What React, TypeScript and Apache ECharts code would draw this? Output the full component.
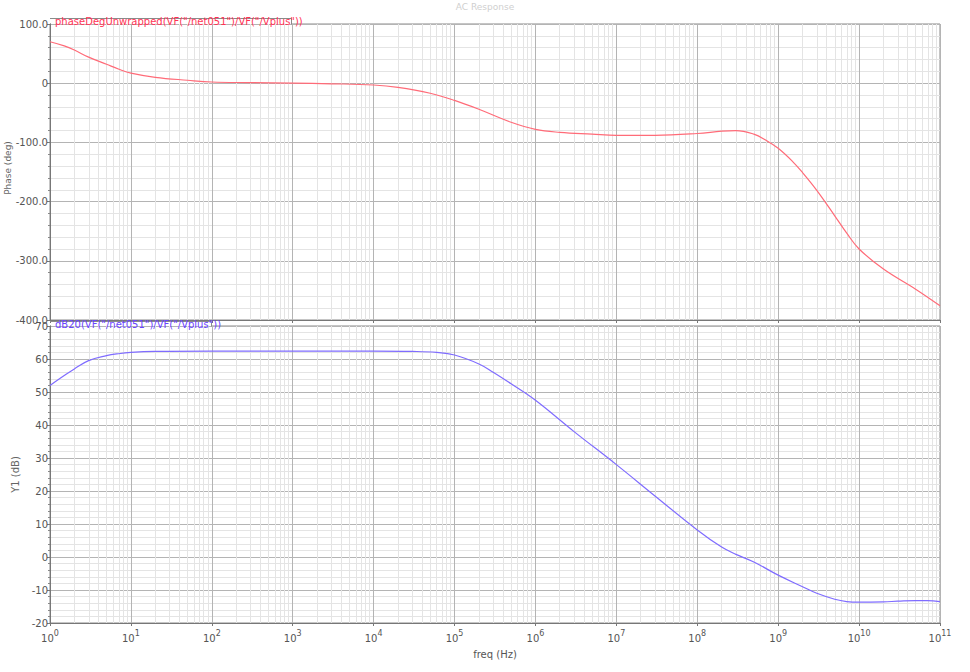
import React, { useEffect, useRef } from "react";
import * as echarts from "echarts";

const phaseFreq = [1, 1.5, 2, 3, 5, 7, 10, 20, 50, 100, 300, 1e3, 3e3, 1e4, 2e4, 5e4, 1e5, 2e5, 5e5, 1e6, 2e6, 5e6, 1e7, 3e7, 1e8, 2e8, 3e8, 5e8, 7e8, 1e9, 1.5e9, 2e9, 3e9, 5e9, 7e9, 1e10, 2e10, 5e10, 1e11];
const phaseDeg = [70, 63, 56, 44, 32, 24, 17, 10, 5, 2, 1, 0, -1, -3, -7, -17, -29, -44, -66, -78, -83, -86, -88, -88, -85, -81, -80, -86, -96, -110, -132, -151, -181, -224, -253, -280, -314, -348, -376];

const gainFreq = [1, 1.5, 2, 3, 5, 7, 10, 20, 100, 1e3, 1e4, 3e4, 6e4, 1e5, 2e5, 3e5, 5e5, 1e6, 3e6, 1e7, 3e7, 1e8, 2e8, 3e8, 5e8, 1e9, 2e9, 3e9, 5e9, 7e9, 1e10, 2e10, 3e10, 5e10, 7e10, 1e11];
const gainDb = [52, 55, 57, 59.5, 61, 61.6, 62, 62.3, 62.4, 62.4, 62.4, 62.3, 62, 61.2, 58.5, 56, 52.5, 47.5, 38, 28, 18.5, 8.2, 3, 0.8, -1.5, -5.5, -9, -11, -12.8, -13.5, -13.7, -13.6, -13.4, -13.2, -13.2, -13.5];

const decadeExponents = [0, 1, 2, 3, 4, 5, 6, 7, 8, 9, 10, 11];
const minorMultipliers = [2, 3, 4, 5, 6, 7, 8, 9];

const phaseLegend = 'phaseDegUnwrapped(VF("/net051")/VF("/Vplus"))';
const gainLegend = 'dB20(VF("/net051")/VF("/Vplus"))';
const titleText = "AC Response";
const xName = "freq (Hz)";
const phaseName = "Phase (deg)";
const gainName = "Y1 (dB)";

const FONT = "DejaVu Sans";

export default function App() {
  const ref = useRef<HTMLDivElement>(null);
  useEffect(() => {
    if (!ref.current) return;
    const chart = echarts.init(ref.current, undefined, { renderer: "svg" });

    // log10 decade coordinates of the minor (2..9) frequencies
    const minorX: number[] = [];
    decadeExponents.slice(0, -1).forEach((e) => {
      minorMultipliers.forEach((m) => minorX.push(Math.log10(m * Math.pow(10, e))));
    });
    const minExp = decadeExponents[0];
    const maxExp = decadeExponents[decadeExponents.length - 1];

    const grids = [
      { left: 50, top: 24, width: 890, height: 296, show: true, borderColor: "#8a8a8a", borderWidth: 1, outerBoundsMode: "none", containLabel: false },
      { left: 50, top: 326, width: 890, height: 297, show: true, borderColor: "#8a8a8a", borderWidth: 1, outerBoundsMode: "none", containLabel: false },
    ];

    const xAxisBase = (gridIndex: number, showLabels: boolean) => ({
      type: "value",
      gridIndex,
      min: minExp,
      max: maxExp,
      interval: 1,
      name: showLabels ? xName : "",
      nameLocation: "middle",
      nameGap: 26,
      nameTextStyle: { color: "#555", fontFamily: FONT, fontSize: 10 },
      axisLine: { show: true, onZero: false, lineStyle: { color: "#777" } },
      axisTick: { show: true, length: 3, inside: false, lineStyle: { color: "#777" } },
      axisLabel: {
        show: showLabels,
        margin: 6,
        formatter: (v: number) => `{b|10}{s|${Math.round(v)}}`,
        rich: {
          b: { fontFamily: FONT, fontSize: 10, color: "#555", verticalAlign: "bottom" },
          s: { fontFamily: FONT, fontSize: 8, color: "#555", verticalAlign: "bottom", padding: [0, 0, 6, 0] },
        },
      },
      splitLine: { show: true, lineStyle: { color: "#b4b4b4", width: 1 } },
    });

    const minorGridSeries = (idx: number) => ({
      type: "line",
      xAxisIndex: idx,
      yAxisIndex: idx,
      data: [],
      silent: true,
      z: 0,
      markLine: {
        silent: true,
        symbol: ["none", "none"],
        label: { show: false },
        lineStyle: { color: "#e4e4e4", width: 1, type: "solid" },
        emphasis: { disabled: true },
        animation: false,
        data: minorX.map((v) => ({ xAxis: v })),
      },
    });

    const option: any = {
      animation: false,
      backgroundColor: "#ffffff",
      title: {
        text: titleText,
        left: "center",
        top: -3,
        textStyle: { fontFamily: FONT, fontSize: 9, color: "#d0d0d0", fontWeight: "normal" },
      },
      grid: grids,
      xAxis: [xAxisBase(0, false), xAxisBase(1, true)],
      yAxis: [
        {
          type: "value",
          gridIndex: 0,
          min: -400,
          max: 100,
          interval: 100,
          axisLine: { show: true, lineStyle: { color: "#777" } },
          axisTick: { show: true, length: 3, lineStyle: { color: "#777" } },
          minorTick: { show: true, splitNumber: 5, length: 2, lineStyle: { color: "#888" } },
          axisLabel: {
            margin: 2,
            color: "#555",
            fontFamily: FONT,
            fontSize: 10,
            formatter: (v: number) => (v === 0 ? "0" : v.toFixed(1)),
          },
          splitLine: { show: true, lineStyle: { color: "#b4b4b4" } },
          minorSplitLine: { show: true, lineStyle: { color: "#e4e4e4" } },
        },
        {
          type: "value",
          gridIndex: 1,
          min: -20,
          max: 70,
          interval: 10,
          name: gainName,
          nameLocation: "middle",
          nameGap: 22,
          nameTextStyle: { color: "#666", fontFamily: FONT, fontSize: 10 },
          axisLine: { show: true, lineStyle: { color: "#777" } },
          axisTick: { show: true, length: 3, lineStyle: { color: "#777" } },
          minorTick: { show: true, splitNumber: 5, length: 2, lineStyle: { color: "#888" } },
          axisLabel: { margin: 2, color: "#555", fontFamily: FONT, fontSize: 10 },
          splitLine: { show: true, lineStyle: { color: "#b4b4b4" } },
          minorSplitLine: { show: true, lineStyle: { color: "#e4e4e4" } },
        },
      ],
      series: [
        minorGridSeries(0),
        minorGridSeries(1),
        {
          type: "line",
          xAxisIndex: 0,
          yAxisIndex: 0,
          data: phaseFreq.map((f, i) => [Math.log10(f), phaseDeg[i]]),
          smooth: 0.4,
          showSymbol: false,
          z: 5,
          lineStyle: { color: "#ff6b78", width: 1.2 },
        },
        {
          type: "line",
          xAxisIndex: 1,
          yAxisIndex: 1,
          data: gainFreq.map((f, i) => [Math.log10(f), gainDb[i]]),
          smooth: 0.4,
          showSymbol: false,
          z: 5,
          lineStyle: { color: "#7f6cff", width: 1.2 },
        },
      ],
      graphic: [
        {
          type: "text",
          x: 8,
          y: 168,
          rotation: Math.PI / 2,
          style: { text: phaseName, fill: "#666", font: `9px "${FONT}"`, align: "center", verticalAlign: "middle" },
          z: 52,
        },
        { type: "rect", shape: { x: 51, y: 18, width: 240, height: 6 }, style: { fill: "#fff" }, z: 50 },
        { type: "polyline", shape: { points: [[50, 18.5], [291.5, 18.5], [291.5, 24.5]] }, style: { stroke: "#8a8a8a", fill: "none", lineWidth: 1 }, z: 51 },
        { type: "text", x: 55, y: 16, style: { text: phaseLegend, fill: "#ff3355", font: `10px "${FONT}"` }, z: 52 },
        { type: "rect", shape: { x: 51, y: 321, width: 160, height: 5 }, style: { fill: "#fff" }, z: 50 },
        { type: "polyline", shape: { points: [[50, 321.5], [211.5, 321.5], [211.5, 326.5]] }, style: { stroke: "#8a8a8a", fill: "none", lineWidth: 1 }, z: 51 },
        { type: "text", x: 55, y: 319, style: { text: gainLegend, fill: "#6a45ff", font: `10px "${FONT}"` }, z: 52 },
      ],
    };

    chart.setOption(option);
    return () => chart.dispose();
  }, []);

  return (
    <div style={{ position: "fixed", left: 0, top: 0, width: 970, height: 672, background: "#fff" }}>
      <div ref={ref} style={{ width: 970, height: 672 }} />
    </div>
  );
}
